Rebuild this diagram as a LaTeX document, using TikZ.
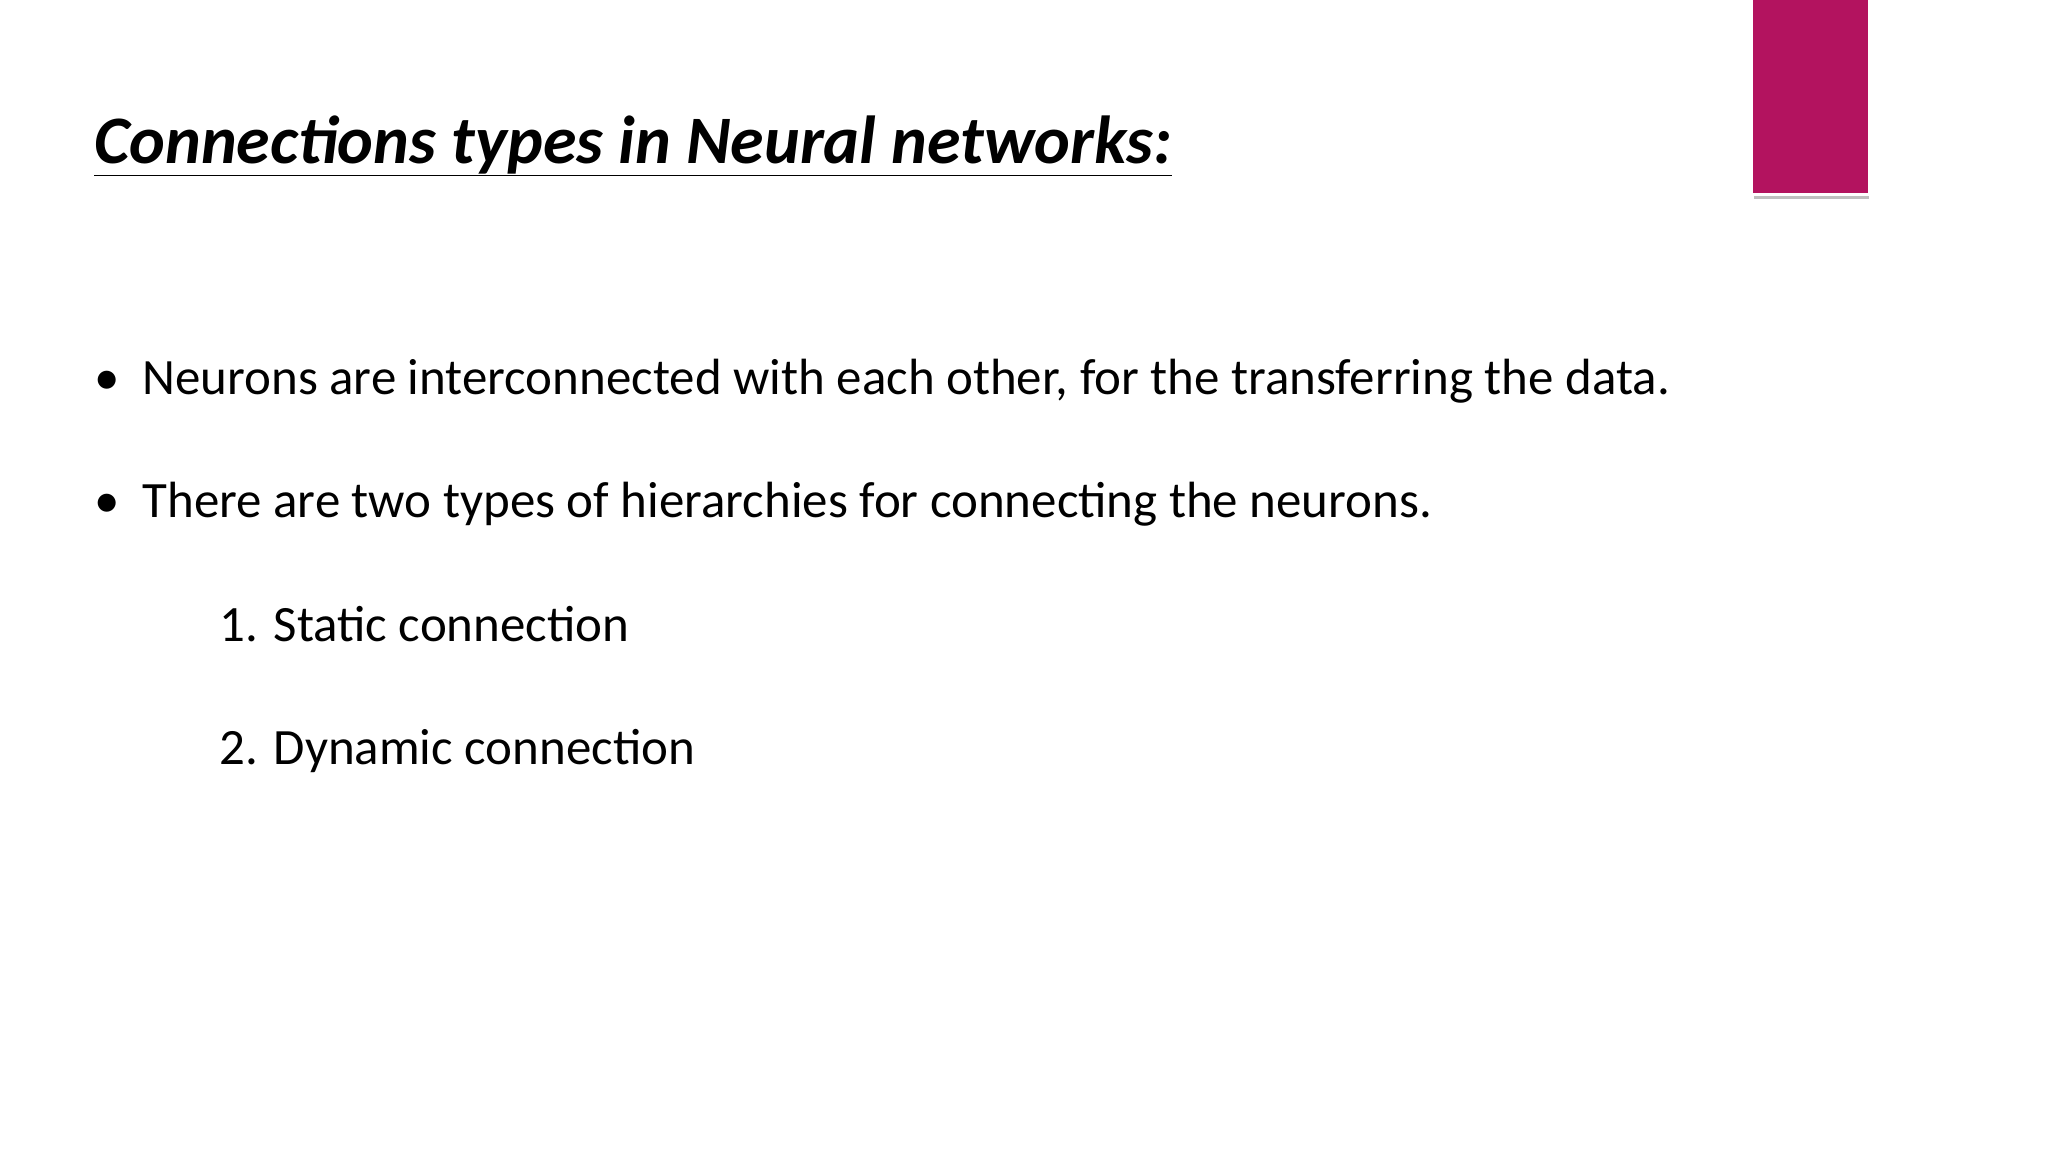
\documentclass[tikz,border=0pt]{standalone}
\usepackage{fontspec}
\setmainfont{Carlito}
\definecolor{pink}{HTML}{B3135F}
\tikzset{txt/.style={anchor=base west,inner sep=0pt,font=\fontsize{39}{44}\selectfont},
ttl/.style={anchor=base west,inner sep=0pt,font=\fontsize{52}{60}\selectfont\bfseries\itshape}}
\begin{document}
\begin{tikzpicture}[x=1pt,y=1pt]
\useasboundingbox (0,0) rectangle (1568,882);
\fill[black!25] (1343,732) rectangle (1431,730);
\fill[pink] (1342,734) rectangle (1430,882);
\node[ttl] (title) at (72,757) {\underline{Connections types in Neural networks:}};
\node[txt] (b1) at (72,580) {•};
\node[txt] (t1) at (109,580) {Neurons are interconnected with each other, for the transferring the data.};
\node[txt] (b2) at (72,486) {•};
\node[txt] (t2) at (109,486) {There are two types of hierarchies for connecting the neurons.};
\node[txt] (i1) at (168,391) {1. Static connection};
\node[txt] (i2) at (168,297) {2. Dynamic connection};
\end{tikzpicture}
\end{document}
